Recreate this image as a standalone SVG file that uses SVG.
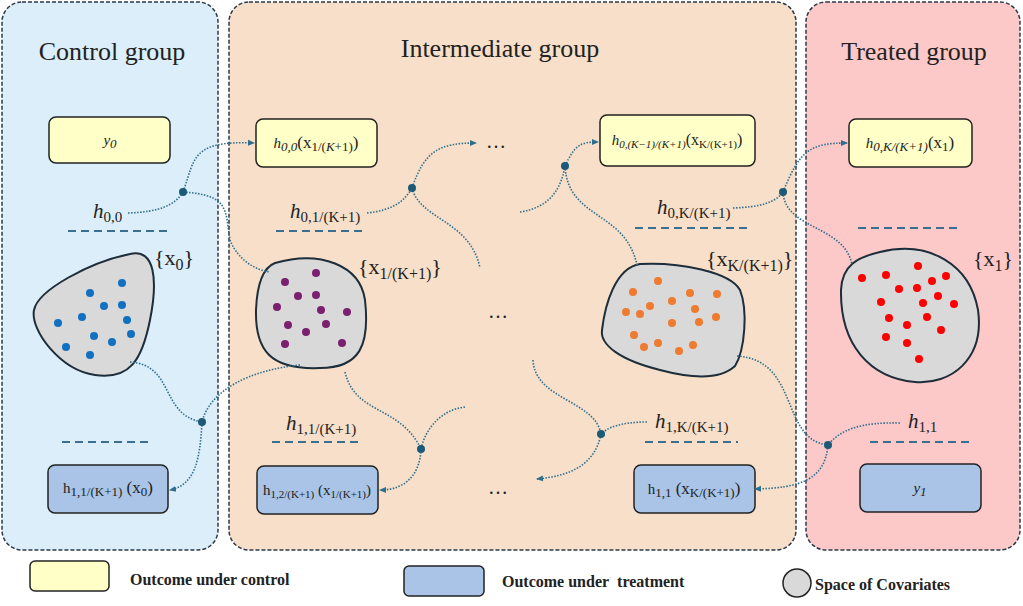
<svg xmlns="http://www.w3.org/2000/svg" width="1023" height="606" viewBox="0 0 1023 606">
<style>
text{font-family:"Liberation Serif","DejaVu Serif",serif;fill:#222}
.panel{stroke:#2b3a4a;stroke-width:1.5;stroke-dasharray:4 2}
.y{fill:#ffffc8;stroke:#222;stroke-width:1.5}
.b{fill:#a9c4e6;stroke:#222;stroke-width:1.5}
.blob{fill:#d9d9d9;stroke:#1e2d3a;stroke-width:2}
.dash{stroke:#3a6f8f;stroke-width:2;stroke-dasharray:8 5}
.c{fill:none;stroke:#2e6f8e;stroke-width:1.6;stroke-dasharray:1.5 1.5}
.dot{fill:#1d5a78}
.bt{font-size:15px;text-anchor:middle}
.h{font-size:21px;font-style:italic}
.s{font-size:13px}
.hs{font-size:15px;font-style:normal}
.leg{font-size:16px;font-weight:bold}
.title{font-size:26px;text-anchor:middle}
</style>
<defs><marker id="a" markerWidth="8" markerHeight="8" refX="6" refY="4" orient="auto" markerUnits="userSpaceOnUse"><path d="M0,1 L7,4 L0,7 z" fill="#2e6f8e"/></marker></defs>
<g id="panel-control"><rect class="panel" x="2" y="2" width="216" height="548" rx="20" fill="#dbeef9"/><text class="title" x="112" y="60">Control group</text></g>
<g id="panel-intermediate"><rect class="panel" x="229" y="2" width="567" height="548" rx="20" fill="#f7dfc9"/><text class="title" x="500" y="57">Intermediate group</text></g>
<g id="panel-treated"><rect class="panel" x="806" y="2" width="214" height="548" rx="20" fill="#fdc8c8"/><text class="title" x="914" y="60">Treated group</text></g>

<g id="dashes">
<line class="dash" x1="68" y1="231" x2="167" y2="231"/><line class="dash" x1="276" y1="231" x2="367" y2="231"/>
<line class="dash" x1="635" y1="228" x2="750" y2="228"/><line class="dash" x1="858" y1="228" x2="962" y2="228"/>
<line class="dash" x1="62" y1="442" x2="153" y2="442"/><line class="dash" x1="272" y1="442" x2="362" y2="442"/>
<line class="dash" x1="645" y1="442" x2="738" y2="442"/><line class="dash" x1="870" y1="442" x2="972" y2="442"/>
</g>

<g id="box-y0"><rect class="y" x="49" y="117" width="121" height="46" rx="7"/><text class="bt" x="110" y="145" font-style="italic">y<tspan class="s" dy="3">0</tspan></text></g>
<g id="box-h00"><rect class="y" x="256" y="119" width="121" height="48" rx="7"/><text class="bt" x="316" y="148"><tspan font-style="italic">h</tspan><tspan class="s" dy="3" font-style="italic">0,0</tspan><tspan dy="-3" font-size="17">(x</tspan><tspan class="s" dy="3">1/(<tspan font-style="italic">K</tspan>+1)</tspan><tspan dy="-3" font-size="17">)</tspan></text></g>
<g id="box-h0K1"><rect class="y" x="600" y="115" width="155" height="51" rx="7"/><text class="bt" x="677" y="145" font-size="14"><tspan font-style="italic">h</tspan><tspan font-size="11" dy="3" font-style="italic">0,(K−1)/(K+1)</tspan><tspan dy="-3" font-size="16">(x</tspan><tspan font-size="11" dy="3">K/(K+1)</tspan><tspan dy="-3" font-size="16">)</tspan></text></g>
<g id="box-h0K"><rect class="y" x="849" y="119" width="123" height="48" rx="7"/><text class="bt" x="910" y="148"><tspan font-style="italic">h</tspan><tspan class="s" dy="3" font-style="italic">0,K/(K+1)</tspan><tspan dy="-3" font-size="17">(x</tspan><tspan class="s" dy="3">1</tspan><tspan dy="-3" font-size="17">)</tspan></text></g>
<g id="box-h11x0"><rect class="b" x="48" y="465" width="120" height="48" rx="7"/><text class="bt" x="108" y="493">h<tspan class="s" dy="3">1,1/(K+1)</tspan><tspan dy="-3" font-size="17"> (x</tspan><tspan class="s" dy="3">0</tspan><tspan dy="-3" font-size="17">)</tspan></text></g>
<g id="box-h12"><rect class="b" x="257" y="466" width="121" height="48" rx="7"/><text class="bt" x="317" y="495" font-size="13">h<tspan font-size="11" dy="3">1,2/(K+1)</tspan><tspan dy="-3" font-size="15"> (x</tspan><tspan font-size="11" dy="3">1/(K+1)</tspan><tspan dy="-3" font-size="15">)</tspan></text></g>
<g id="box-h11xK"><rect class="b" x="634" y="465" width="121" height="48" rx="7"/><text class="bt" x="694" y="494">h<tspan class="s" dy="3">1,1</tspan><tspan dy="-3" font-size="17"> (x</tspan><tspan class="s" dy="3">K/(K+1)</tspan><tspan dy="-3" font-size="17">)</tspan></text></g>
<g id="box-y1"><rect class="b" x="860" y="464" width="121" height="48" rx="7"/><text class="bt" x="920" y="493" font-style="italic">y<tspan class="s" dy="3">1</tspan></text></g>

<g id="labels">
<text class="h" x="93" y="218">h<tspan class="hs" dy="4" font-style="italic">0,0</tspan></text>
<text class="h" x="290" y="218">h<tspan class="hs" dy="4">0,1/(K+1)</tspan></text>
<text class="h" x="657" y="214">h<tspan class="hs" dy="4">0,K/(K+1)</tspan></text>
<text class="h" x="286" y="430">h<tspan class="hs" dy="4">1,1/(K+1)</tspan></text>
<text class="h" x="655" y="428">h<tspan class="hs" dy="4">1,K/(K+1)</tspan></text>
<text class="h" x="908" y="428">h<tspan class="hs" dy="4">1,1</tspan></text>
<text x="154" y="265" font-size="22">{x<tspan font-size="16" dy="5">0</tspan><tspan dy="-5">}</tspan></text>
<text x="358" y="274" font-size="22">{x<tspan font-size="16" dy="5">1/(K+1)</tspan><tspan dy="-5">}</tspan></text>
<text x="706" y="266" font-size="22">{x<tspan font-size="16" dy="5">K/(K+1)</tspan><tspan dy="-5">}</tspan></text>
<text x="973" y="266" font-size="22">{x<tspan font-size="16" dy="5">1</tspan><tspan dy="-5">}</tspan></text>
<text x="486" y="148" font-size="20">…</text>
<text x="488" y="318" font-size="20">…</text>
<text x="488" y="494" font-size="20">…</text>
</g>

<g id="blob-control"><path class="blob" d="M130,254 C155,248 158,280 150,320 C142,360 130,380 95,375 C60,370 30,330 34,310 C38,290 90,262 130,254 Z"/>
<g fill="#1170c0"><circle cx="122" cy="283" r="4"/><circle cx="90" cy="293" r="4"/><circle cx="104" cy="306" r="4"/><circle cx="122" cy="305" r="4"/><circle cx="58" cy="323" r="4"/><circle cx="82" cy="317" r="4"/><circle cx="127" cy="320" r="4"/><circle cx="94" cy="336" r="4"/><circle cx="112" cy="342" r="4"/><circle cx="131" cy="334" r="4"/><circle cx="66" cy="347" r="4"/><circle cx="90" cy="355" r="4"/></g></g>
<g id="blob-inter1"><path class="blob" d="M275,263 C320,250 360,265 365,300 C370,345 360,368 320,368 C270,370 255,350 256,310 C257,285 262,268 275,263 Z"/>
<g fill="#7b1f6f"><circle cx="316" cy="273" r="4"/><circle cx="285" cy="282" r="4"/><circle cx="298" cy="296" r="4"/><circle cx="316" cy="295" r="4"/><circle cx="277" cy="307" r="4"/><circle cx="321" cy="310" r="4"/><circle cx="347" cy="312" r="4"/><circle cx="288" cy="325" r="4"/><circle cx="306" cy="332" r="4"/><circle cx="326" cy="324" r="4"/><circle cx="285" cy="344" r="4"/><circle cx="342" cy="343" r="4"/></g></g>
<g id="blob-interK"><path class="blob" d="M640,264 C680,262 730,272 740,290 C748,310 745,350 735,366 C720,380 690,378 660,370 C620,360 600,345 602,330 C605,305 615,268 640,264 Z"/>
<g fill="#ee7b30"><circle cx="658" cy="281" r="4"/><circle cx="633" cy="292" r="4"/><circle cx="690" cy="293" r="4"/><circle cx="717" cy="294" r="4"/><circle cx="650" cy="306" r="4"/><circle cx="672" cy="301" r="4"/><circle cx="626" cy="312" r="4"/><circle cx="640" cy="314" r="4"/><circle cx="695" cy="309" r="4"/><circle cx="716" cy="317" r="4"/><circle cx="672" cy="323" r="4"/><circle cx="699" cy="322" r="4"/><circle cx="634" cy="335" r="4"/><circle cx="644" cy="347" r="4"/><circle cx="658" cy="343" r="4"/><circle cx="679" cy="351" r="4"/><circle cx="693" cy="345" r="4"/></g></g>
<g id="blob-treated"><path class="blob" d="M880,252 C930,240 970,265 978,310 C985,360 950,385 915,382 C870,378 840,345 841,290 C842,265 858,257 880,252 Z"/>
<g fill="#f00"><circle cx="918" cy="266" r="4"/><circle cx="862" cy="278" r="4"/><circle cx="886" cy="275" r="4"/><circle cx="932" cy="281" r="4"/><circle cx="946" cy="276" r="4"/><circle cx="899" cy="289" r="4"/><circle cx="917" cy="288" r="4"/><circle cx="938" cy="296" r="4"/><circle cx="881" cy="302" r="4"/><circle cx="923" cy="303" r="4"/><circle cx="954" cy="304" r="4"/><circle cx="889" cy="318" r="4"/><circle cx="927" cy="317" r="4"/><circle cx="907" cy="325" r="4"/><circle cx="941" cy="330" r="4"/><circle cx="886" cy="337" r="4"/><circle cx="907" cy="343" r="4"/><circle cx="919" cy="359" r="4"/></g></g>

<g id="connectors">
<path class="c" d="M128,213 C160,212 175,205 183,192"/>
<path class="c" d="M183,192 C195,160 190,140 254,143" marker-end="url(#a)"/>
<path class="c" d="M183,192 C230,195 225,210 230,240 C238,260 255,270 270,272"/>
<path class="c" d="M367,213 C395,210 405,200 412,188"/>
<path class="c" d="M412,188 C425,150 440,143 476,143" marker-end="url(#a)"/>
<path class="c" d="M412,188 C420,220 470,220 480,268"/>
<path class="c" d="M520,212 C545,208 560,195 565,166"/>
<path class="c" d="M565,166 C575,145 580,142 598,142" marker-end="url(#a)"/>
<path class="c" d="M565,166 C568,220 625,210 637,265"/>
<path class="c" d="M733,208 C760,207 775,203 783,192"/>
<path class="c" d="M783,192 C800,150 810,143 847,143" marker-end="url(#a)"/>
<path class="c" d="M783,192 C785,230 845,225 852,265"/>
<path class="c" d="M130,362 C175,365 160,415 202,422"/>
<path class="c" d="M300,365 C250,370 210,390 202,422"/>
<path class="c" d="M202,422 C200,460 195,485 170,490" marker-end="url(#a)"/>
<path class="c" d="M345,372 C355,415 400,405 421,449"/>
<path class="c" d="M465,407 C440,410 425,430 421,449"/>
<path class="c" d="M421,449 C420,475 405,490 380,490" marker-end="url(#a)"/>
<path class="c" d="M647,422 C620,422 607,428 601,434"/>
<path class="c" d="M533,360 C535,400 595,400 601,434"/>
<path class="c" d="M601,434 C595,465 570,476 537,479" marker-end="url(#a)"/>
<path class="c" d="M737,356 C800,360 780,440 828,445"/>
<path class="c" d="M900,423 C860,422 840,430 828,445"/>
<path class="c" d="M828,445 C825,480 800,488 755,489" marker-end="url(#a)"/>
<g class="dot"><circle cx="183" cy="192" r="4"/><circle cx="412" cy="188" r="4"/><circle cx="565" cy="166" r="4"/><circle cx="783" cy="192" r="4"/><circle cx="202" cy="422" r="4"/><circle cx="421" cy="449" r="4"/><circle cx="601" cy="434" r="4"/><circle cx="828" cy="445" r="4"/></g>
</g>

<g id="legend">
<rect class="y" x="30" y="561" width="79" height="30" rx="5"/><text class="leg" x="130" y="585">Outcome under control</text>
<rect class="b" x="404" y="566" width="80" height="30" rx="5"/><text class="leg" x="502" y="587" font-size="18">Outcome under&#160; treatment</text>
<circle cx="797" cy="583" r="14" fill="#d9d9d9" stroke="#222" stroke-width="1.5"/><text class="leg" x="815" y="590" font-size="17">Space of Covariates</text>
</g>
</svg>
